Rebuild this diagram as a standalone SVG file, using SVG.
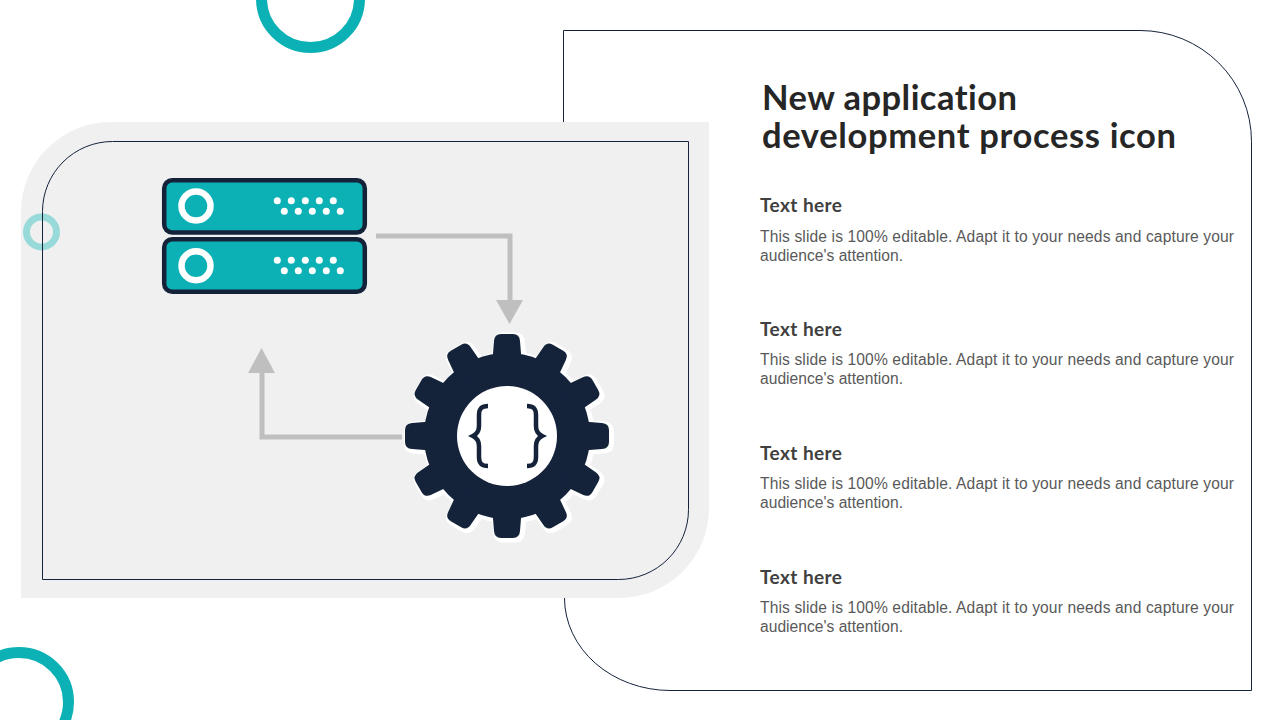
<svg xmlns="http://www.w3.org/2000/svg" width="1280" height="720" viewBox="0 0 1280 720">
<style>
.thin{fill:none;stroke:#14233a;stroke-width:1}
.ring{fill:none;stroke:#0cb1b5;stroke-width:11}
.srv{fill:#0cb1b5;stroke:#14233a;stroke-width:4.5}
.knob{fill:none;stroke:#fff;stroke-width:6.5}
.dot{fill:#fff}
.conn{fill:none;stroke:#bfbfbf;stroke-width:5}
.head{fill:#bfbfbf}
.brace{fill:none;stroke:#14233a;stroke-width:4.5}
.title{font-family:"Lato","Liberation Sans",sans-serif;font-weight:700;font-size:34.5px;fill:#262626;font-variant-ligatures:none}
.h{font-family:"Lato","Liberation Sans",sans-serif;font-weight:700;font-size:19px;fill:#404040}
.b{font-family:"Liberation Sans",Arial,sans-serif;font-size:15.6px;fill:#595959}
</style>
<defs>
<g id="gearshape">
<circle cx="0" cy="0" r="83"/>
<g id="teeth">
<path id="t" d="M-15 -70L-13 -95Q-12.500 -102 -6 -102H6Q12.500 -102 13 -95L15 -70Z"/>
<use href="#t" transform="rotate(30)"/><use href="#t" transform="rotate(60)"/><use href="#t" transform="rotate(90)"/>
<use href="#t" transform="rotate(120)"/><use href="#t" transform="rotate(150)"/><use href="#t" transform="rotate(180)"/>
<use href="#t" transform="rotate(210)"/><use href="#t" transform="rotate(240)"/><use href="#t" transform="rotate(270)"/>
<use href="#t" transform="rotate(300)"/><use href="#t" transform="rotate(330)"/>
</g>
</g>
<g id="dots" class="dot">
<circle cx="277.3" cy="0" r="3.5"/><circle cx="291.3" cy="0" r="3.5"/><circle cx="305.3" cy="0" r="3.5"/><circle cx="319.3" cy="0" r="3.5"/><circle cx="333.3" cy="0" r="3.5"/>
<circle cx="284.3" cy="10.6" r="3.5"/><circle cx="298.3" cy="10.6" r="3.5"/><circle cx="312.3" cy="10.6" r="3.5"/><circle cx="326.3" cy="10.6" r="3.5"/><circle cx="340.3" cy="10.6" r="3.5"/>
</g>
</defs>
<rect width="1280" height="720" fill="#fff"/>
<g id="decor">
<circle class="ring" cx="310.5" cy="-1.5" r="49"/>
<circle class="ring" cx="19" cy="702" r="49.5"/>
</g>
<path id="right-panel" class="thin" d="M563.500 122V30.500H1140A111.500 111 0 0 1 1251.500 141.500V690.500H670A106 92.500 0 0 1 564.500 598"/>
<path id="left-panel" fill="#f0f0f0" d="M111 122H709V508A90 90 0 0 1 619 598H21V212A90 90 0 0 1 111 122Z"/>
<circle id="small-ring" cx="41.500" cy="232" r="15" fill="none" stroke="#98dada" stroke-width="7"/>
<path id="left-outline" class="thin" d="M112.500 141.500H688.500V509.500A70 70 0 0 1 618.500 579.500H42.500V211.500A70 70 0 0 1 112.500 141.500Z"/>
<g id="connectors">
<path class="conn" d="M376 236H510V302"/>
<path class="head" d="M496 300H523L509.500 324Z"/>
<path class="conn" d="M402 437H262V372"/>
<path class="head" d="M248 373H275L261.500 348Z"/>
</g>
<g id="server-top">
<rect class="srv" x="164.200" y="180.200" width="200.600" height="52.300" rx="8"/>
<circle class="knob" cx="196" cy="206" r="14.500"/>
<use href="#dots" y="200.700"/>
</g>
<g id="server-bottom">
<rect class="srv" x="164.200" y="239.200" width="200.600" height="52.600" rx="8"/>
<circle class="knob" cx="196" cy="265.700" r="14.500"/>
<use href="#dots" y="260.200"/>
</g>
<g id="gear">
<use href="#gearshape" transform="translate(509 437.500)" fill="#fff" stroke="#fff" stroke-width="6" stroke-linejoin="round"/>
<use href="#gearshape" transform="translate(507 436)" fill="#14233a"/>
<circle cx="507" cy="436" r="50" fill="#fff"/>
<path class="brace" d="M488 406C481 406 479 409 479 415V426C479 431 477 434 473 436C477 438 479 441 479 446V457C479 463 481 466 488 466"/>
<path class="brace" d="M527 406C534 406 536 409 536 415V426C536 431 538 434 542 436C538 438 536 441 536 446V457C536 463 534 466 527 466"/>
</g>
<g id="title">
<text class="title" x="762" y="110" textLength="255" lengthAdjust="spacing">New application</text>
<text class="title" x="762" y="148" textLength="414" lengthAdjust="spacing">development process icon</text>
</g>
<g id="item-1">
<text class="h" x="760" y="212" textLength="82" lengthAdjust="spacing">Text here</text>
<text class="b" x="760" y="242" textLength="474" lengthAdjust="spacing">This slide is 100% editable. Adapt it to your needs and capture your</text>
<text class="b" x="760" y="261" textLength="143" lengthAdjust="spacing">audience's attention.</text>
</g>
<g id="item-2">
<text class="h" x="760" y="336" textLength="82" lengthAdjust="spacing">Text here</text>
<text class="b" x="760" y="365" textLength="474" lengthAdjust="spacing">This slide is 100% editable. Adapt it to your needs and capture your</text>
<text class="b" x="760" y="384" textLength="143" lengthAdjust="spacing">audience's attention.</text>
</g>
<g id="item-3">
<text class="h" x="760" y="460" textLength="82" lengthAdjust="spacing">Text here</text>
<text class="b" x="760" y="489" textLength="474" lengthAdjust="spacing">This slide is 100% editable. Adapt it to your needs and capture your</text>
<text class="b" x="760" y="508" textLength="143" lengthAdjust="spacing">audience's attention.</text>
</g>
<g id="item-4">
<text class="h" x="760" y="584" textLength="82" lengthAdjust="spacing">Text here</text>
<text class="b" x="760" y="613" textLength="474" lengthAdjust="spacing">This slide is 100% editable. Adapt it to your needs and capture your</text>
<text class="b" x="760" y="632" textLength="143" lengthAdjust="spacing">audience's attention.</text>
</g>
</svg>
